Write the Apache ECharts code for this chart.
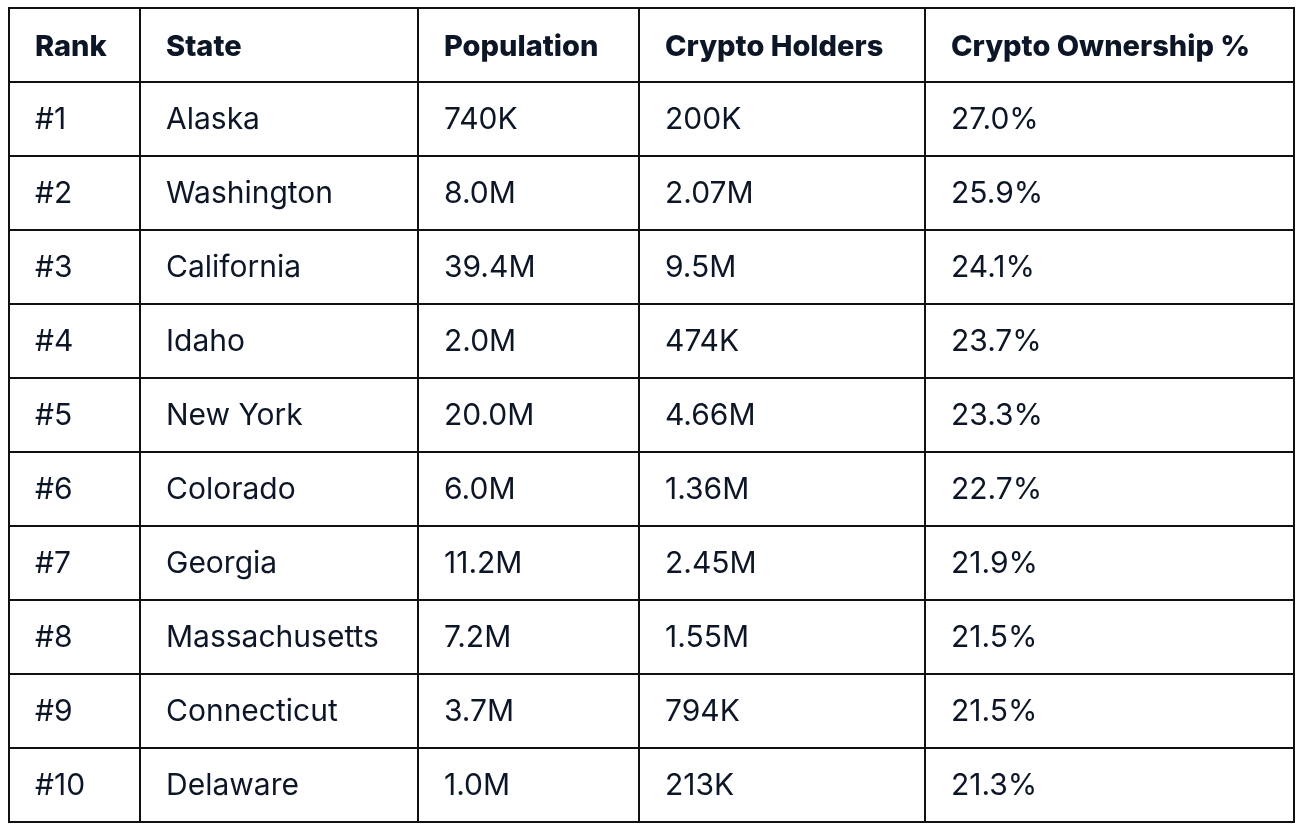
<html>
    <head>
        <meta charset="utf-8">
        <script src="https://cdn.jsdelivr.net/npm/echarts@6/dist/echarts.min.js"></script>
        <style>
            html, body { margin: 0; padding: 0; background: #fff; }
            #main { width: 1302px; height: 830px; }
        </style>
    </head>
    <body>
        <div id="main"></div>
        <script>

        var headers = ['Rank', 'State', 'Population', 'Crypto Holders', 'Crypto Ownership %'];
        var ranks = ['#1', '#2', '#3', '#4', '#5', '#6', '#7', '#8', '#9', '#10'];
        var states = ['Alaska', 'Washington', 'California', 'Idaho', 'New York',
            'Colorado', 'Georgia', 'Massachusetts', 'Connecticut', 'Delaware'];
        var population = ['740K', '8.0M', '39.4M', '2.0M', '20.0M', '6.0M', '11.2M', '7.2M', '3.7M', '1.0M'];
        var holders = ['200K', '2.07M', '9.5M', '474K', '4.66M', '1.36M', '2.45M', '1.55M', '794K', '213K'];
        var ownership = [27.0, 25.9, 24.1, 23.7, 23.3, 22.7, 21.9, 21.5, 21.5, 21.3];

        // column edges in table units (left edge = 0)
        var colEdges = [0, 131, 409, 630, 916, 1285];
        var textColor = '#0d1626';
        var lineColor = '#111111';
        var font = 'Inter, "Open Sans", sans-serif';

        var rowNames = ['header'].concat(ranks);
        var rows = [headers];
        for (var i = 0; i < ranks.length; i++) {
            rows.push([ranks[i], states[i], population[i], holders[i], ownership[i].toFixed(1) + '%']);
        }

        var chart = echarts.init(document.getElementById('main'));

        function renderRow(params, api) {
            var r = api.value(0);
            var cells = rows[r];
            var mid = api.coord([0, r]);
            var h = api.size([0, 1])[1];
            var y0 = mid[1] - h / 2;
            var y1 = mid[1] + h / 2;
            var children = [];
            var xl = api.coord([colEdges[0], r])[0];
            var xr = api.coord([colEdges[colEdges.length - 1], r])[0];
            // horizontal rule above the row
            children.push({
                type: 'line',
                shape: { x1: xl - 1, y1: y0, x2: xr + 1, y2: y0 },
                style: { stroke: lineColor, lineWidth: 2 }
            });
            if (r === rows.length - 1) {
                children.push({
                    type: 'line',
                    shape: { x1: xl - 1, y1: y1, x2: xr + 1, y2: y1 },
                    style: { stroke: lineColor, lineWidth: 2 }
                });
            }
            for (var c = 0; c < colEdges.length; c++) {
                var x = api.coord([colEdges[c], r])[0];
                children.push({
                    type: 'line',
                    shape: { x1: x, y1: y0, x2: x, y2: y1 },
                    style: { stroke: lineColor, lineWidth: 2 }
                });
            }
            for (var k = 0; k < cells.length; k++) {
                var tx = api.coord([colEdges[k], r])[0] + 26;
                children.push({
                    type: 'text',
                    x: tx,
                    y: mid[1] + (r === 0 ? 2 : 1),
                    style: {
                        text: cells[k],
                        fill: textColor,
                        font: r === 0 ? '800 29px ' + font : '400 30px ' + font,
                        textAlign: 'left',
                        textVerticalAlign: 'middle'
                    }
                });
            }
            return { type: 'group', children: children };
        }

        chart.setOption({
            animation: false,
            grid: { left: 9, right: 8, top: 8, bottom: 8 },
            xAxis: {
                type: 'value', min: 0, max: colEdges[colEdges.length - 1],
                show: false
            },
            yAxis: {
                type: 'category', data: rowNames, inverse: true,
                show: false
            },
            series: [{
                type: 'custom',
                renderItem: renderRow,
                data: rows.map(function (row, i) { return [i]; }),
                encode: { y: 0 },
                silent: true
            }]
        });

        window.onresize = chart.resize;

        </script>
    </body>
</html>
